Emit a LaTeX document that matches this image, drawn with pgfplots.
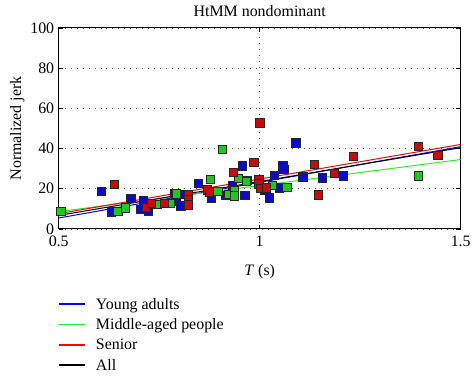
\documentclass[border=0pt]{standalone}
\usepackage{pgfplots}
\pgfplotsset{compat=1.18}
\usepackage{fontspec}
\setmainfont{Liberation Serif}
\definecolor{mblue}{RGB}{10,10,200}
\definecolor{mgreen}{RGB}{30,200,30}
\definecolor{mred}{RGB}{200,10,10}
\definecolor{lblue}{RGB}{0,0,255}
\definecolor{lgreen}{RGB}{40,240,40}
\definecolor{lred}{RGB}{255,0,0}
\begin{document}
\begin{tikzpicture}
\begin{axis}[
  scale only axis, width=404pt, height=202pt,
  font=\fontsize{16}{19}\selectfont,
  /pgf/number format/assume math mode=true,
  xmin=0.5, xmax=1.5, ymin=0, ymax=100,
  xtick={0.5,1,1.5}, ytick={0,20,40,60,80,100},
  xticklabels={0.5,1,1.5},
  xticklabel style={yshift=-4pt},
  yticklabel style={xshift=-1pt},
  xmajorgrids, ymajorgrids,
  grid style={black!65, line width=0.7pt, dash pattern=on 1pt off 5pt},
  axis line style={line width=0.8pt},
  tick style={black, line width=0.6pt},
  title={HtMM nondominant},
  title style={yshift=2pt},
  xlabel={\textit{T} (s)},
  xlabel style={yshift=-10pt},
  ylabel={Normalized jerk},
  ylabel style={yshift=-1pt},
  legend style={draw=none, fill=none, at={(-0.01,-0.325)}, anchor=north west,
    font=\fontsize{16}{19}\selectfont, row sep=4pt},
  legend cell align=left,
  legend image code/.code={\draw[#1, line width=1.5pt] (0pt,0.5pt) -- (27pt,0.5pt); \path (35pt,0pt);},
]
% Young adults
\addplot[only marks, mark=square*, mark size=4.2pt, mark options={draw=black!85, fill=mblue, line width=0.6pt}, forget plot] coordinates {
(0.606,18.6) (0.631,8.5) (0.679,15.2) (0.703,9.6) (0.710,13.9) (0.723,8.8)
(0.787,17.7) (0.791,14.0) (0.804,11.5) (0.809,17.3) (0.847,22.7) (0.879,15.5)
(0.915,16.6) (0.932,21.8) (0.956,31.3) (0.963,16.8) (0.968,24.3) (1.012,19.3)
(1.024,15.5) (1.037,26.7) (1.048,20.5) (1.057,31.3) (1.060,29.7) (1.090,42.9)
(1.107,25.9) (1.155,25.4) (1.208,26.4)
};
% Middle-aged
\addplot[only marks, mark=square*, mark size=4.2pt, mark options={draw=black!85, fill=mgreen, line width=0.6pt}, forget plot] coordinates {
(0.505,8.6) (0.647,8.8) (0.665,10.4) (0.746,12.3) (0.776,12.6) (0.793,17.4)
(0.877,24.6) (0.896,18.7) (0.907,39.6) (0.923,17.2) (0.936,19.0) (0.937,16.5)
(0.947,25.0) (0.967,23.8) (1.031,21.8) (1.067,20.8) (1.394,26.4)
};
% Senior
\addplot[only marks, mark=square*, mark size=4.2pt, mark options={draw=black!85, fill=mred, line width=0.6pt}, forget plot] coordinates {
(0.639,22.1) (0.718,10.8) (0.731,12.8) (0.762,12.8) (0.823,17.0) (0.823,14.5)
(0.823,11.9) (0.870,19.5) (0.875,18.5) (0.934,28.3) (0.985,33.0) (1.000,52.8)
(0.998,24.8) (0.998,22.5) (1.002,20.1) (1.017,20.5) (1.136,32.0) (1.146,17.0)
(1.185,27.7) (1.233,36.0) (1.395,41.2) (1.443,36.6)
};
\addplot[lblue, line width=1pt] coordinates {(0.5,5.4) (1.5,40.9)};
\addlegendentry{Young adults}
\addplot[lgreen, line width=1pt] coordinates {(0.5,8.6) (1.5,34.5)};
\addlegendentry{Middle-aged people}
\addplot[lred, line width=1pt] coordinates {(0.5,7.6) (1.5,42.0)};
\addlegendentry{Senior}
\addplot[black, line width=1pt] coordinates {(0.5,6.7) (1.5,40.4)};
\addlegendentry{All}
\end{axis}
\path ([shift={(-59pt,-147pt)}]current axis.south west) rectangle ([shift={(11pt,28pt)}]current axis.north east);
\end{tikzpicture}
\end{document}
